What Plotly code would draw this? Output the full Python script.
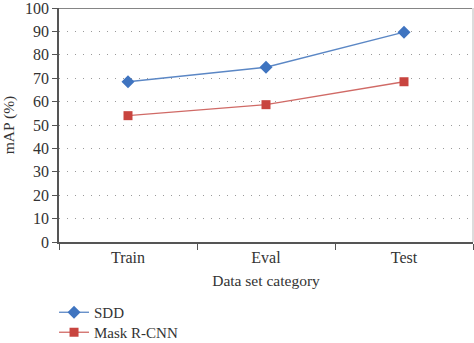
import plotly.graph_objects as go

categories = ["Train", "Eval", "Test"]
sdd_map = [68.5, 74.7, 89.7]
mask_rcnn_map = [54.0, 58.7, 68.5]
y_ticks = [0, 10, 20, 30, 40, 50, 60, 70, 80, 90, 100]

FONT = "Liberation Serif"

fig = go.Figure()
fig.add_trace(go.Scatter(
    x=categories, y=sdd_map, name="SDD", mode="lines+markers",
    line=dict(color="#5b87c5", width=1.3),
    marker=dict(symbol="diamond", size=10, color="#3f74c0"),
    legend="legend",
))
fig.add_trace(go.Scatter(
    x=categories, y=mask_rcnn_map, name="Mask R-CNN", mode="lines+markers",
    line=dict(color="#d06a66", width=1.3),
    marker=dict(symbol="square", size=9, color="#c8443f"),
    legend="legend2",
))

# solid frame line along the top of the plot area
fig.add_shape(type="line", xref="paper", yref="y", x0=0, x1=1, y0=100, y1=100,
              line=dict(color="#858585", width=2))
# faint right-hand border
fig.add_shape(type="line", xref="paper", yref="paper", x0=1, x1=1, y0=0, y1=1,
              line=dict(color="#dcdcdc", width=2))

legend_style = dict(xanchor="left", yanchor="top",
                    font=dict(family=FONT, size=15, color="#333333"),
                    itemwidth=30, bgcolor="rgba(0,0,0,0)")

fig.update_layout(
    width=474, height=343,
    margin=dict(l=59, r=1, t=8, b=101, autoexpand=False),
    paper_bgcolor="white", plot_bgcolor="white",
    font=dict(family=FONT, size=15, color="#333333"),
    showlegend=True,
    legend=dict(x=-0.012, y=-0.2308, **legend_style),
    legend2=dict(x=-0.012, y=-0.3162, **legend_style),
)
fig.update_xaxes(
    type="category", range=[-0.5, 2.5],
    showline=True, linecolor="#555555", linewidth=1.5,
    ticks="outside", tickson="boundaries", ticklen=6, tickcolor="#555555",
    showgrid=False,
    title=dict(text="Data set category", font=dict(family=FONT, size=15.5), standoff=10),
    tickfont=dict(family=FONT, size=16),
)
fig.update_yaxes(
    range=[0, 100.02], tickvals=y_ticks,
    showline=True, linecolor="#555555", linewidth=1.5,
    ticks="outside", ticklen=5, tickcolor="#555555",
    showgrid=True, gridcolor="#9a9a9a", gridwidth=1, griddash="1px,7px",
    zeroline=False, ticklabeloverflow="allow",
    title=dict(text="mAP (%)", font=dict(family=FONT, size=15.5), standoff=8),
    tickfont=dict(family=FONT, size=16),
)

fig.write_html("out.html")
